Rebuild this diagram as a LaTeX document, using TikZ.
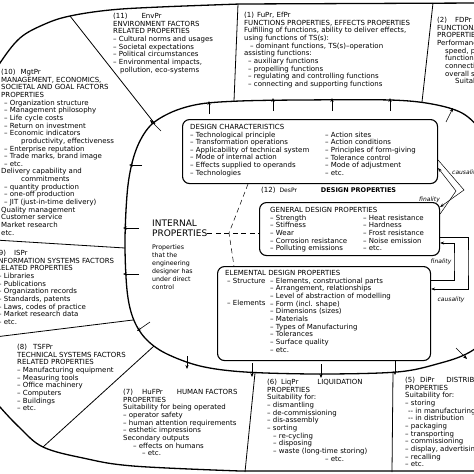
\documentclass[tikz,border=0pt]{standalone}
\usepackage{fontspec}
\setmainfont{DejaVu Sans}
\usetikzlibrary{arrows.meta}
\tikzset{
  rim/.style    ={line width=1.3pt,line join=round},
  seam/.style   ={line width=0.8pt},
  props/.style  ={anchor=north west,inner sep=0pt,align=left,
                  font=\fontsize{7}{7.65}\selectfont},
  dbox/.style   ={draw,line width=1.1pt,rounded corners=7pt,anchor=north west,inner sep=0pt},
  outarr/.style ={-{Stealth[length=4pt,width=3.2pt]},line width=0.6pt},
  fbarrow/.style={-{Stealth[length=4pt,width=3pt]},line width=0.5pt},
  dashln/.style ={dash pattern=on 5pt off 3.5pt,line width=0.5pt},
  lbl/.style    ={inner sep=0pt,font=\fontsize{6}{7}\selectfont\itshape},
}
\begin{document}
\begin{tikzpicture}[x=1pt,y=-1pt]
  \useasboundingbox (0,0) rectangle (474,474);
  \clip (0,0) rectangle (474,474);
  % outer boundary
  \draw[rim] plot[smooth,tension=0.6] coordinates {(-10,82) (0,63) (20,38) (45,24) (70,16) (110,10) (160,7) (240,4)} -- (480,3);
  \draw[rim] plot[smooth,tension=0.6] coordinates {(-10,394) (0,407) (20,428) (43,447) (83,458) (133,466) (240,471)} -- (480,471);
  % internal properties boundary
  \draw[rim] plot[smooth,tension=0.55] coordinates {(505,160) (482,131) (462,113) (432,104) (390,100) (300,100)
    (240,101) (200,104) (172,112) (150,126) (136,150) (128,185) (125,240) (127,290) (133,318) (145,338)
    (165,353) (200,366) (245,372) (320,374) (397,372) (437,364) (470,352) (505,325)};
  % separators between the groups
  \draw[seam] (70,16) -- (155,124);
  \draw[seam] (238,4) -- (234,101);
  \draw[seam] (433,3) -- (422,102);
  \draw[seam] (-5,240) -- (125,248);
  \draw[seam] (-5,337) -- (133,320);
  \draw[seam] (43,447) -- (154,346);
  \draw[seam] (255,373) -- (245,472);
  \draw[seam] (393,372) -- (392,472);
  % outward arrows
  \foreach \sx/\sy/\ex/\ey in {209/114/209/101, 273/111/273/98, 332/111/332/98, 390/111/390/98,
      446/122/453/108, 161/131/150/120, 142/165/129/165, 139/228/123/228, 139/274/123/274,
      150/322/137/331, 187/356/187/369, 252/363/252/377, 321/364/321/378, 395/361/395/375,
      456/348/467/359}
    \draw[outarr] (\sx,\sy) -- (\ex,\ey);

  % outer groups
  \node[props] (envpr) at (113,13) {(11)\hspace{14pt}EnvPr\\ENVIRONMENT FACTORS\\RELATED PROPERTIES\\
    -- Cultural norms and usages\\-- Societal expectations\\-- Political circumstances\\
    -- Environmental impacts,\\\hspace{7pt}pollution, eco-systems};
  \node[props] (fupr) at (244,12) {(1)\hspace{3pt}FuPr, EfPr\\FUNCTIONS PROPERTIES, EFFECTS PROPERTIES\\
    Fulfilling of functions, ability to deliver effects,\\using functions of TS(s):\\
    \hspace{6pt}-- dominant functions, TS(s)--operation\\assisting functions:\\
    \hspace{4pt}-- auxiliary functions\\\hspace{4pt}-- propelling functions\\
    \hspace{4pt}-- regulating and controlling functions\\\hspace{4pt}-- connecting and supporting functions};
  \node[props] (fdpr) at (437,17) {(2)\hspace{8pt}FDPr\\FUNCTIONALLY DETERMINED\\PROPERTIES\\Performance\\
    \hspace{8pt}speed, power\\\hspace{8pt}functional reliability\\\hspace{8pt}connecting dimensions\\
    \hspace{8pt}overall size\\\hspace{18pt}Suitability};
  \node[props] (mgtpr) at (1,69) {(10)\hspace{5pt}MgtPr\\MANAGEMENT, ECONOMICS,\\SOCIETAL AND GOAL FACTORS\\PROPERTIES\\
    \hspace{3pt}-- Organization structure\\\hspace{3pt}-- Management philosophy\\\hspace{3pt}-- Life cycle costs\\
    \hspace{3pt}-- Return on investment\\\hspace{3pt}-- Economic indicators\\\hspace{20pt}productivity, effectiveness\\
    \hspace{3pt}-- Enterprise reputation\\\hspace{3pt}-- Trade marks, brand image\\\hspace{3pt}-- etc.\\
    Delivery capability and\\\hspace{20pt}commitments\\\hspace{3pt}-- quantity production\\
    \hspace{3pt}-- one-off production\\\hspace{3pt}-- JIT (just-in-time delivery)\\
    Quality management\\Customer service\\Market research\\etc.};
  \node[props] (ispr) at (-4,250) {(9)\hspace{8pt}ISPr\\INFORMATION SYSTEMS FACTORS\\RELATED PROPERTIES\\
    \hspace{2pt}-- Libraries\\\hspace{2pt}-- Publications\\\hspace{2pt}-- Organization records\\
    \hspace{2pt}-- Standards, patents\\\hspace{2pt}-- Laws, codes of practice\\
    \hspace{2pt}-- Market research data\\\hspace{2pt}-- etc.};
  \node[props] (tsfpr) at (17,344) {(8)\hspace{6pt}TSFPr\\TECHNICAL SYSTEMS FACTORS\\RELATED PROPERTIES\\
    -- Manufacturing equipment\\-- Measuring tools\\-- Office machinery\\-- Computers\\-- Buildings\\-- etc.};
  \node[props] (hufpr) at (123,389) {(7)\hspace{9pt}HuFPr\hspace{14pt}HUMAN FACTORS\\PROPERTIES\\
    Suitability for being operated\\-- operator safety\\-- human attention requirements\\
    -- esthetic impressions\\Secondary outputs\\\hspace{10pt}-- effects on humans\\\hspace{19pt}-- etc.};
  \node[props] (liqpr) at (267,379) {(6)\hspace{4pt}LiqPr\hspace{19pt}LIQUIDATION\\PROPERTIES\\Suitability for:\\
    -- dismantling\\-- de-commissioning\\-- dis-assembly\\-- sorting\\\hspace{6pt}-- re-cycling\\
    \hspace{6pt}-- disposing\\\hspace{6pt}-- waste (long-time storing)\\\hspace{58pt}-- etc.};
  \node[props] (dipr) at (405,377) {(5)\hspace{5pt}DiPr\hspace{12pt}DISTRIBUTION\\PROPERTIES\\Suitability for:\\
    -- storing\\\hspace{3pt}-{}- in manufacturing\\\hspace{3pt}-{}- in distribution\\-- packaging\\
    -- transporting\\-- commissioning\\-- display, advertising\\-- recalling\\-- etc.};

  % internal properties
  \node[anchor=north west,inner sep=0pt,align=left,font=\fontsize{9}{10}\selectfont] (int) at (152,219.5)
    {INTERNAL\\PROPERTIES};
  \node[anchor=north west,inner sep=0pt,align=left,font=\fontsize{6.3}{8}\selectfont] (intd) at (152,244.5)
    {Properties\\that the\\engineering\\designer has\\under direct\\control};

  % design characteristics
  \node[dbox,minimum width=255pt,minimum height=64pt] (dc) at (182,119) {};
  \node[props] (dcl) at (190,124) {DESIGN CHARACTERISTICS\\-- Technological principle\\
    -- Transformation operations\\-- Applicability of technical system\\-- Mode of internal action\\
    -- Effects supplied to operands\\-- Technologies};
  \node[props] (dcr) at (325,131.65) {-- Action sites\\-- Action conditions\\-- Principles of form-giving\\
    -- Tolerance control\\-- Mode of adjustment\\-- etc.};
  \node[props] (despr) at (261,186.5) {(12)\hspace{4pt}{\fontsize{6}{7}\selectfont DesPr}\hspace{24pt}%
    {\fontsize{6.5}{7}\selectfont\bfseries DESIGN PROPERTIES}};

  % general design properties
  \node[dbox,minimum width=180pt,minimum height=53pt] (gd) at (259,202) {};
  \node[props] (gdh) at (270,207) {GENERAL DESIGN PROPERTIES};
  \node[props] (gdl) at (270,214.65) {-- Strength\\-- Stiffness\\-- Wear\\-- Corrosion resistance\\-- Polluting emissions};
  \node[props] (gdr) at (363,214.65) {-- Heat resistance\\-- Hardness\\-- Frost resistance\\-- Noise emission\\-- etc.};

  % elemental design properties
  \node[dbox,minimum width=213pt,minimum height=94pt] (el) at (217,266) {};
  \node[props] (elh) at (225,270) {ELEMENTAL DESIGN PROPERTIES};
  \node[props] (ell) at (227,277.65) {-- Structure\\\mbox{}\\\mbox{}\\-- Elements};
  \node[props] (elr) at (270,277.65) {-- Elements, constructional parts\\-- Arrangement, relationships\\
    -- Level of abstraction of modelling\\-- Form (incl. shape)\\-- Dimensions (sizes)\\-- Materials\\
    -- Types of Manufacturing\\-- Tolerances\\-- Surface quality\\-- etc.};

  % dashed links
  \coordinate (jn) at (229,233);
  \draw[dashln] (int.east |- jn) -- (gd.west |- jn);
  \draw[dashln] ([xshift=66pt]dc.south west) -- (jn) -- ([xshift=17pt]el.north west);

  % finality / causality
  \draw[fbarrow] ([yshift=-41pt]dc.north east) -- (464,190) -- ([yshift=-5pt]gd.north east);
  \draw[fbarrow] ([yshift=-12pt]gd.north east) -- (456,191) -- ([yshift=-49pt]dc.north east);
  \node[lbl,anchor=west] (caus1) at (452,173) {causality};
  \node[lbl,anchor=west] (fin1) at (419,200) {finality};
  \draw[fbarrow] ([yshift=-35pt]gd.north east) -| (468,262) |- ([yshift=-23pt]el.north east);
  \draw[fbarrow] ([yshift=-14pt]el.north east) -| (454,262) |- ([yshift=-41pt]gd.north east);
  \node[lbl] (fin2) at (441,262) {finality};
  \node[lbl] (caus2) at (451,300) {causality};
\end{tikzpicture}
\end{document}
